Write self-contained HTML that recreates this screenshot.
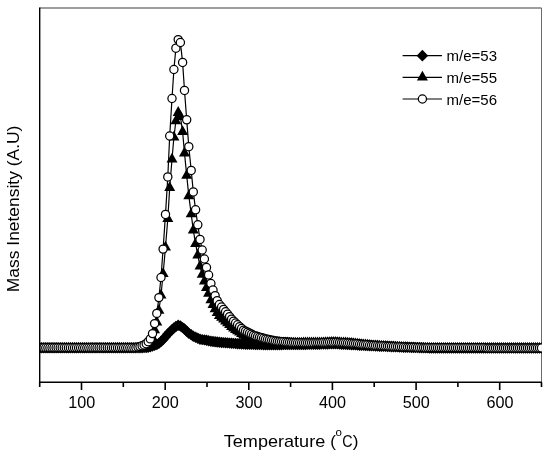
<!DOCTYPE html>
<html lang="en"><head><meta charset="utf-8"><title>Mass intensity vs temperature</title>
<style>html,body{margin:0;padding:0;background:#fff}body{width:550px;height:457px;overflow:hidden}svg{display:block}</style>
</head><body>
<svg width="550" height="457" viewBox="0 0 550 457">
<rect width="550" height="457" fill="#fff"/>
<path d="M39.7 8.0H541.5" stroke="#3c3c3c" stroke-width="1" fill="none"/>
<path d="M541.5 8.0V382.3" stroke="#5a5a5a" stroke-width="0.9" fill="none"/>
<defs>
<path id="d" d="M0 -5.7L5.6 0L0 5.7L-5.6 0Z"/>
<path id="d2" d="M0 -5.9L5.8 0L0 5.9L-5.8 0Z"/>
<path id="t" d="M0 -6.5L5.5 3.3H-5.5Z"/>
<circle id="c" r="4.1" fill="#fff" stroke="#000" stroke-width="1.25"/>
</defs>
<clipPath id="cp"><rect x="39.7" y="8.0" width="502.1" height="374.3"/></clipPath>
<g fill="#000" clip-path="url(#cp)">
<polyline points="39.7,347.8 41.7,347.8 43.8,347.8 45.8,347.8 47.9,347.8 49.9,347.8 52,347.8 54,347.8 56.1,347.8 58.1,347.8 60.2,347.8 62.2,347.8 64.3,347.8 66.3,347.8 68.4,347.8 70.4,347.8 72.5,347.8 74.5,347.8 76.5,347.8 78.6,347.8 80.6,347.8 82.7,347.8 84.7,347.8 86.8,347.8 88.8,347.8 90.9,347.8 92.9,347.8 95,347.8 97,347.8 99.1,347.8 101.1,347.8 103.2,347.8 105.2,347.8 107.3,347.8 109.3,347.8 111.4,347.8 113.4,347.8 115.4,347.8 117.5,347.8 119.5,347.8 121.6,347.8 123.6,347.8 125.7,347.8 127.7,347.8 129.8,347.8 131.8,347.8 133.9,347.8 135.9,347.8 138,347.8 140,347.8 142.1,347.7 144.1,347.6 146.2,347.5 148.2,347.3 150.3,346.8 152.5,346.1 154.6,345.3 156.8,344.5 158.9,343.4 161,341.5 163.1,339.6 165.5,336.8 167.8,334 169.7,332.1 172,329.8 173.9,328 175.9,326.5 178.2,325.3 180.4,326 182.6,327.6 184.5,329 186.7,331.3 188.8,333.2 191.2,334.8 193.3,336.3 195.6,337.3 197.8,338.3 200,339.2 202.2,339.6 204.4,339.9 206.5,340.3 208.6,340.7 210.9,341.2 213,341.5 215.1,341.8 217.2,342 219.4,342.2 221.6,342.5 223.6,342.6 225.6,342.8 227.6,342.9 229.6,343.1 231.6,343.2 233.6,343.4 235.6,343.5 237.6,343.7 239.6,343.8 241.6,344 243.6,344.1 245.6,344.2 247.6,344.3 249.6,344.3 251.6,344.4 253.6,344.4 255.6,344.5 257.6,344.5 259.6,344.6 261.6,344.6 263.6,344.7 265.6,344.7 267.6,344.7 269.6,344.7 271.6,344.7 273.6,344.7 275.6,344.7 277.6,344.7 279.6,344.7 281.6,344.7 283.6,344.6 285.6,344.6 287.6,344.6 289.6,344.6 291.6,344.6 293.6,344.6 295.6,344.6 297.6,344.6 299.6,344.6 301.6,344.6 303.6,344.5 305.6,344.5 307.6,344.4 309.6,344.4 311.6,344.3 313.6,344.3 315.6,344.2 317.6,344.2 319.6,344.2 321.6,344.1 323.6,344.1 325.6,344 327.6,344 329.6,343.9 331.6,343.9 333.6,343.8 335.6,343.8 337.6,343.9 339.6,344.1 341.6,344.2 343.6,344.3 345.6,344.4 347.6,344.5 349.6,344.6 351.6,344.7 353.6,344.8 355.6,344.9 357.6,345.1 359.6,345.2 361.6,345.3 363.6,345.4 365.6,345.5 367.6,345.6 369.6,345.7 371.6,345.8 373.6,345.9 375.6,346 377.6,346.1 379.6,346.2 381.5,346.3 383.5,346.3 385.5,346.4 387.5,346.5 389.5,346.6 391.5,346.7 393.5,346.8 395.5,346.9 397.5,346.9 399.5,347 401.5,347.1 403.5,347.2 405.5,347.3 407.5,347.3 409.5,347.4 411.5,347.5 413.5,347.5 415.5,347.6 417.5,347.6 419.5,347.7 421.5,347.8 423.5,347.8 425.5,347.9 427.5,347.9 429.5,348 431.5,348 433.5,348 435.5,348 437.5,348 439.5,348 441.5,348 443.5,348 445.5,348 447.5,348 449.5,348 451.5,348 453.5,348 455.5,348 457.5,348 459.5,348 461.5,348 463.5,348 465.5,348 467.5,348 469.5,348 471.5,348 473.5,348 475.5,348 477.5,348 479.5,348 481.5,348 483.5,348 485.5,348 487.5,348 489.5,348 491.5,348 493.5,348 495.5,348 497.5,348 499.5,348 501.5,348 503.5,348 505.5,348 507.5,348 509.5,348 511.5,348 513.5,348 515.5,348 517.5,348 519.5,348 521.5,348 523.5,348 525.5,348 527.5,348 529.5,348 531.5,348 533.5,348 535.5,348 537.5,348 539.5,348 541.5,348" fill="none" stroke="#000" stroke-width="1.2"/>
<use href="#d" x="39.7" y="347.8"/>
<use href="#d" x="41.7" y="347.8"/>
<use href="#d" x="43.8" y="347.8"/>
<use href="#d" x="45.8" y="347.8"/>
<use href="#d" x="47.9" y="347.8"/>
<use href="#d" x="49.9" y="347.8"/>
<use href="#d" x="52" y="347.8"/>
<use href="#d" x="54" y="347.8"/>
<use href="#d" x="56.1" y="347.8"/>
<use href="#d" x="58.1" y="347.8"/>
<use href="#d" x="60.2" y="347.8"/>
<use href="#d" x="62.2" y="347.8"/>
<use href="#d" x="64.3" y="347.8"/>
<use href="#d" x="66.3" y="347.8"/>
<use href="#d" x="68.4" y="347.8"/>
<use href="#d" x="70.4" y="347.8"/>
<use href="#d" x="72.5" y="347.8"/>
<use href="#d" x="74.5" y="347.8"/>
<use href="#d" x="76.5" y="347.8"/>
<use href="#d" x="78.6" y="347.8"/>
<use href="#d" x="80.6" y="347.8"/>
<use href="#d" x="82.7" y="347.8"/>
<use href="#d" x="84.7" y="347.8"/>
<use href="#d" x="86.8" y="347.8"/>
<use href="#d" x="88.8" y="347.8"/>
<use href="#d" x="90.9" y="347.8"/>
<use href="#d" x="92.9" y="347.8"/>
<use href="#d" x="95" y="347.8"/>
<use href="#d" x="97" y="347.8"/>
<use href="#d" x="99.1" y="347.8"/>
<use href="#d" x="101.1" y="347.8"/>
<use href="#d" x="103.2" y="347.8"/>
<use href="#d" x="105.2" y="347.8"/>
<use href="#d" x="107.3" y="347.8"/>
<use href="#d" x="109.3" y="347.8"/>
<use href="#d" x="111.4" y="347.8"/>
<use href="#d" x="113.4" y="347.8"/>
<use href="#d" x="115.4" y="347.8"/>
<use href="#d" x="117.5" y="347.8"/>
<use href="#d" x="119.5" y="347.8"/>
<use href="#d" x="121.6" y="347.8"/>
<use href="#d" x="123.6" y="347.8"/>
<use href="#d" x="125.7" y="347.8"/>
<use href="#d" x="127.7" y="347.8"/>
<use href="#d" x="129.8" y="347.8"/>
<use href="#d" x="131.8" y="347.8"/>
<use href="#d" x="133.9" y="347.8"/>
<use href="#d" x="135.9" y="347.8"/>
<use href="#d" x="138" y="347.8"/>
<use href="#d" x="140" y="347.8"/>
<use href="#d" x="142.1" y="347.7"/>
<use href="#d" x="144.1" y="347.6"/>
<use href="#d" x="146.2" y="347.5"/>
<use href="#d" x="148.2" y="347.3"/>
<use href="#d" x="150.3" y="346.8"/>
<use href="#d" x="152.5" y="346.1"/>
<use href="#d" x="154.6" y="345.3"/>
<use href="#d" x="156.8" y="344.5"/>
<use href="#d" x="158.9" y="343.4"/>
<use href="#d" x="161" y="341.5"/>
<use href="#d" x="163.1" y="339.6"/>
<use href="#d" x="165.5" y="336.8"/>
<use href="#d" x="167.8" y="334"/>
<use href="#d" x="169.7" y="332.1"/>
<use href="#d" x="172" y="329.8"/>
<use href="#d" x="173.9" y="328"/>
<use href="#d" x="175.9" y="326.5"/>
<use href="#d" x="178.2" y="325.3"/>
<use href="#d" x="180.4" y="326"/>
<use href="#d" x="182.6" y="327.6"/>
<use href="#d" x="184.5" y="329"/>
<use href="#d" x="186.7" y="331.3"/>
<use href="#d" x="188.8" y="333.2"/>
<use href="#d" x="191.2" y="334.8"/>
<use href="#d" x="193.3" y="336.3"/>
<use href="#d" x="195.6" y="337.3"/>
<use href="#d" x="197.8" y="338.3"/>
<use href="#d" x="200" y="339.2"/>
<use href="#d" x="202.2" y="339.6"/>
<use href="#d" x="204.4" y="339.9"/>
<use href="#d" x="206.5" y="340.3"/>
<use href="#d" x="208.6" y="340.7"/>
<use href="#d" x="210.9" y="341.2"/>
<use href="#d" x="213" y="341.5"/>
<use href="#d" x="215.1" y="341.8"/>
<use href="#d" x="217.2" y="342"/>
<use href="#d" x="219.4" y="342.2"/>
<use href="#d" x="221.6" y="342.5"/>
<use href="#d" x="223.6" y="342.6"/>
<use href="#d" x="225.6" y="342.8"/>
<use href="#d" x="227.6" y="342.9"/>
<use href="#d" x="229.6" y="343.1"/>
<use href="#d" x="231.6" y="343.2"/>
<use href="#d" x="233.6" y="343.4"/>
<use href="#d" x="235.6" y="343.5"/>
<use href="#d" x="237.6" y="343.7"/>
<use href="#d" x="239.6" y="343.8"/>
<use href="#d" x="241.6" y="344"/>
<use href="#d" x="243.6" y="344.1"/>
<use href="#d" x="245.6" y="344.2"/>
<use href="#d" x="247.6" y="344.3"/>
<use href="#d" x="249.6" y="344.3"/>
<use href="#d" x="251.6" y="344.4"/>
<use href="#d" x="253.6" y="344.4"/>
<use href="#d" x="255.6" y="344.5"/>
<use href="#d" x="257.6" y="344.5"/>
<use href="#d" x="259.6" y="344.6"/>
<use href="#d" x="261.6" y="344.6"/>
<use href="#d" x="263.6" y="344.7"/>
<use href="#d" x="265.6" y="344.7"/>
<use href="#d" x="267.6" y="344.7"/>
<use href="#d" x="269.6" y="344.7"/>
<use href="#d" x="271.6" y="344.7"/>
<use href="#d" x="273.6" y="344.7"/>
<use href="#d" x="275.6" y="344.7"/>
<use href="#d" x="277.6" y="344.7"/>
<use href="#d" x="279.6" y="344.7"/>
<use href="#d" x="281.6" y="344.7"/>
<use href="#d" x="283.6" y="344.6"/>
<use href="#d" x="285.6" y="344.6"/>
<use href="#d" x="287.6" y="344.6"/>
<use href="#d" x="289.6" y="344.6"/>
<use href="#d" x="291.6" y="344.6"/>
<use href="#d" x="293.6" y="344.6"/>
<use href="#d" x="295.6" y="344.6"/>
<use href="#d" x="297.6" y="344.6"/>
<use href="#d" x="299.6" y="344.6"/>
<use href="#d" x="301.6" y="344.6"/>
<use href="#d" x="303.6" y="344.5"/>
<use href="#d" x="305.6" y="344.5"/>
<use href="#d" x="307.6" y="344.4"/>
<use href="#d" x="309.6" y="344.4"/>
<use href="#d" x="311.6" y="344.3"/>
<use href="#d" x="313.6" y="344.3"/>
<use href="#d" x="315.6" y="344.2"/>
<use href="#d" x="317.6" y="344.2"/>
<use href="#d" x="319.6" y="344.2"/>
<use href="#d" x="321.6" y="344.1"/>
<use href="#d" x="323.6" y="344.1"/>
<use href="#d" x="325.6" y="344"/>
<use href="#d" x="327.6" y="344"/>
<use href="#d" x="329.6" y="343.9"/>
<use href="#d" x="331.6" y="343.9"/>
<use href="#d" x="333.6" y="343.8"/>
<use href="#d" x="335.6" y="343.8"/>
<use href="#d" x="337.6" y="343.9"/>
<use href="#d" x="339.6" y="344.1"/>
<use href="#d" x="341.6" y="344.2"/>
<use href="#d" x="343.6" y="344.3"/>
<use href="#d" x="345.6" y="344.4"/>
<use href="#d" x="347.6" y="344.5"/>
<use href="#d" x="349.6" y="344.6"/>
<use href="#d" x="351.6" y="344.7"/>
<use href="#d" x="353.6" y="344.8"/>
<use href="#d" x="355.6" y="344.9"/>
<use href="#d" x="357.6" y="345.1"/>
<use href="#d" x="359.6" y="345.2"/>
<use href="#d" x="361.6" y="345.3"/>
<use href="#d" x="363.6" y="345.4"/>
<use href="#d" x="365.6" y="345.5"/>
<use href="#d" x="367.6" y="345.6"/>
<use href="#d" x="369.6" y="345.7"/>
<use href="#d" x="371.6" y="345.8"/>
<use href="#d" x="373.6" y="345.9"/>
<use href="#d" x="375.6" y="346"/>
<use href="#d" x="377.6" y="346.1"/>
<use href="#d" x="379.6" y="346.2"/>
<use href="#d" x="381.5" y="346.3"/>
<use href="#d" x="383.5" y="346.3"/>
<use href="#d" x="385.5" y="346.4"/>
<use href="#d" x="387.5" y="346.5"/>
<use href="#d" x="389.5" y="346.6"/>
<use href="#d" x="391.5" y="346.7"/>
<use href="#d" x="393.5" y="346.8"/>
<use href="#d" x="395.5" y="346.9"/>
<use href="#d" x="397.5" y="346.9"/>
<use href="#d" x="399.5" y="347"/>
<use href="#d" x="401.5" y="347.1"/>
<use href="#d" x="403.5" y="347.2"/>
<use href="#d" x="405.5" y="347.3"/>
<use href="#d" x="407.5" y="347.3"/>
<use href="#d" x="409.5" y="347.4"/>
<use href="#d" x="411.5" y="347.5"/>
<use href="#d" x="413.5" y="347.5"/>
<use href="#d" x="415.5" y="347.6"/>
<use href="#d" x="417.5" y="347.6"/>
<use href="#d" x="419.5" y="347.7"/>
<use href="#d" x="421.5" y="347.8"/>
<use href="#d" x="423.5" y="347.8"/>
<use href="#d" x="425.5" y="347.9"/>
<use href="#d" x="427.5" y="347.9"/>
<use href="#d" x="429.5" y="348"/>
<use href="#d" x="431.5" y="348"/>
<use href="#d" x="433.5" y="348"/>
<use href="#d" x="435.5" y="348"/>
<use href="#d" x="437.5" y="348"/>
<use href="#d" x="439.5" y="348"/>
<use href="#d" x="441.5" y="348"/>
<use href="#d" x="443.5" y="348"/>
<use href="#d" x="445.5" y="348"/>
<use href="#d" x="447.5" y="348"/>
<use href="#d" x="449.5" y="348"/>
<use href="#d" x="451.5" y="348"/>
<use href="#d" x="453.5" y="348"/>
<use href="#d" x="455.5" y="348"/>
<use href="#d" x="457.5" y="348"/>
<use href="#d" x="459.5" y="348"/>
<use href="#d" x="461.5" y="348"/>
<use href="#d" x="463.5" y="348"/>
<use href="#d" x="465.5" y="348"/>
<use href="#d" x="467.5" y="348"/>
<use href="#d" x="469.5" y="348"/>
<use href="#d" x="471.5" y="348"/>
<use href="#d" x="473.5" y="348"/>
<use href="#d" x="475.5" y="348"/>
<use href="#d" x="477.5" y="348"/>
<use href="#d" x="479.5" y="348"/>
<use href="#d" x="481.5" y="348"/>
<use href="#d" x="483.5" y="348"/>
<use href="#d" x="485.5" y="348"/>
<use href="#d" x="487.5" y="348"/>
<use href="#d" x="489.5" y="348"/>
<use href="#d" x="491.5" y="348"/>
<use href="#d" x="493.5" y="348"/>
<use href="#d" x="495.5" y="348"/>
<use href="#d" x="497.5" y="348"/>
<use href="#d" x="499.5" y="348"/>
<use href="#d" x="501.5" y="348"/>
<use href="#d" x="503.5" y="348"/>
<use href="#d" x="505.5" y="348"/>
<use href="#d" x="507.5" y="348"/>
<use href="#d" x="509.5" y="348"/>
<use href="#d" x="511.5" y="348"/>
<use href="#d" x="513.5" y="348"/>
<use href="#d" x="515.5" y="348"/>
<use href="#d" x="517.5" y="348"/>
<use href="#d" x="519.5" y="348"/>
<use href="#d" x="521.5" y="348"/>
<use href="#d" x="523.5" y="348"/>
<use href="#d" x="525.5" y="348"/>
<use href="#d" x="527.5" y="348"/>
<use href="#d" x="529.5" y="348"/>
<use href="#d" x="531.5" y="348"/>
<use href="#d" x="533.5" y="348"/>
<use href="#d" x="535.5" y="348"/>
<use href="#d" x="537.5" y="348"/>
<use href="#d" x="539.5" y="348"/>
<use href="#d" x="541.5" y="348"/>
<polyline points="39.7,348.7 41.7,348.7 43.8,348.7 45.8,348.7 47.9,348.7 49.9,348.7 52,348.7 54,348.7 56.1,348.7 58.1,348.7 60.2,348.7 62.2,348.7 64.3,348.7 66.3,348.7 68.4,348.7 70.4,348.7 72.5,348.7 74.5,348.7 76.5,348.7 78.6,348.7 80.6,348.7 82.7,348.7 84.7,348.7 86.8,348.7 88.8,348.7 90.9,348.7 92.9,348.7 95,348.7 97,348.7 99.1,348.7 101.1,348.7 103.2,348.7 105.2,348.7 107.3,348.7 109.3,348.7 111.4,348.7 113.4,348.7 115.4,348.7 117.5,348.7 119.5,348.7 121.6,348.7 123.6,348.7 125.7,348.7 127.7,348.7 129.8,348.7 131.8,348.7 133.9,348.7 135.9,348.6 138,348.2 140,347.8 142.1,347.2 144.1,346.5 146.2,345.5 148.2,344 150.3,341.8 152.5,337.7 154.6,330 156.8,322.3 158.9,310.4 161,295.3 163.1,273.7 165.5,247.3 167.8,218.8 169.7,187.8 172,159.3 173.9,137.2 175.9,121 178.2,112.6 180.4,116.7 182.6,131.8 184.5,153.1 186.7,175.4 188.8,195.9 191.2,213.9 193.3,230.2 195.6,243.8 197.8,255.2 200,266.3 202.2,274.4 204.4,281.2 206.5,287.7 208.6,293.4 210.9,299.9 213,304.8 215.1,309 217.2,312.7 219.4,315.6 221.6,317.4 223.6,319.2 225.6,321.1 227.6,322.9 229.6,324.7 231.6,326.6 233.6,328.2 235.6,329.6 237.6,331 239.6,332.3 241.6,333.7 243.6,335.1 245.6,335.9 247.6,336.6 249.6,337.4 251.6,338.1 253.6,338.9 255.6,339.5 257.6,340 259.6,340.4 261.6,340.9 263.6,341.2 265.6,341.5 267.6,341.7 269.6,341.9 271.6,342.1 273.6,342.3 275.6,342.6 277.6,342.7 279.6,342.8 281.6,342.9 283.6,343 285.6,343.1 287.6,343.1 289.6,343.2 291.6,343.2 293.6,343.2 295.6,343.2 297.6,343.3 299.6,343.2 301.6,343.2 303.6,343.1 305.6,343.1 307.6,343.1 309.6,343.1 311.6,343.1 313.6,343 315.6,343 317.6,343 319.6,343 321.6,342.9 323.6,342.9 325.6,342.8 327.6,342.7 329.6,342.7 331.6,342.6 333.6,342.6 335.6,342.6 337.6,342.7 339.6,342.8 341.6,342.9 343.6,343 345.6,343.1 347.6,343.3 349.6,343.4 351.6,343.6 353.6,343.8 355.6,344 357.6,344.2 359.6,344.5 361.6,344.7 363.6,344.9 365.6,345.1 367.6,345.3 369.6,345.6 371.6,345.8 373.6,345.9 375.6,346 377.6,346.1 379.6,346.3 381.5,346.4 383.5,346.5 385.5,346.6 387.5,346.8 389.5,346.9 391.5,347 393.5,347.1 395.5,347.2 397.5,347.3 399.5,347.5 401.5,347.6 403.5,347.7 405.5,347.8 407.5,347.9 409.5,347.9 411.5,348 413.5,348.1 415.5,348.2 417.5,348.2 419.5,348.3 421.5,348.4 423.5,348.5 425.5,348.5 427.5,348.6 429.5,348.7 431.5,348.7 433.5,348.7 435.5,348.7 437.5,348.7 439.5,348.7 441.5,348.7 443.5,348.7 445.5,348.7 447.5,348.7 449.5,348.7 451.5,348.7 453.5,348.7 455.5,348.7 457.5,348.7 459.5,348.7 461.5,348.7 463.5,348.7 465.5,348.7 467.5,348.7 469.5,348.7 471.5,348.7 473.5,348.7 475.5,348.7 477.5,348.7 479.5,348.7 481.5,348.7 483.5,348.7 485.5,348.7 487.5,348.7 489.5,348.7 491.5,348.8 493.5,348.8 495.5,348.8 497.5,348.8 499.5,348.8 501.5,348.8 503.5,348.8 505.5,348.8 507.5,348.8 509.5,348.8 511.5,348.8 513.5,348.8 515.5,348.8 517.5,348.8 519.5,348.8 521.5,348.8 523.5,348.8 525.5,348.8 527.5,348.8 529.5,348.8 531.5,348.8 533.5,348.8 535.5,348.8 537.5,348.8 539.5,348.8 541.5,348.8" fill="none" stroke="#000" stroke-width="1.2"/>
<use href="#t" x="39.7" y="348.7"/>
<use href="#t" x="41.7" y="348.7"/>
<use href="#t" x="43.8" y="348.7"/>
<use href="#t" x="45.8" y="348.7"/>
<use href="#t" x="47.9" y="348.7"/>
<use href="#t" x="49.9" y="348.7"/>
<use href="#t" x="52" y="348.7"/>
<use href="#t" x="54" y="348.7"/>
<use href="#t" x="56.1" y="348.7"/>
<use href="#t" x="58.1" y="348.7"/>
<use href="#t" x="60.2" y="348.7"/>
<use href="#t" x="62.2" y="348.7"/>
<use href="#t" x="64.3" y="348.7"/>
<use href="#t" x="66.3" y="348.7"/>
<use href="#t" x="68.4" y="348.7"/>
<use href="#t" x="70.4" y="348.7"/>
<use href="#t" x="72.5" y="348.7"/>
<use href="#t" x="74.5" y="348.7"/>
<use href="#t" x="76.5" y="348.7"/>
<use href="#t" x="78.6" y="348.7"/>
<use href="#t" x="80.6" y="348.7"/>
<use href="#t" x="82.7" y="348.7"/>
<use href="#t" x="84.7" y="348.7"/>
<use href="#t" x="86.8" y="348.7"/>
<use href="#t" x="88.8" y="348.7"/>
<use href="#t" x="90.9" y="348.7"/>
<use href="#t" x="92.9" y="348.7"/>
<use href="#t" x="95" y="348.7"/>
<use href="#t" x="97" y="348.7"/>
<use href="#t" x="99.1" y="348.7"/>
<use href="#t" x="101.1" y="348.7"/>
<use href="#t" x="103.2" y="348.7"/>
<use href="#t" x="105.2" y="348.7"/>
<use href="#t" x="107.3" y="348.7"/>
<use href="#t" x="109.3" y="348.7"/>
<use href="#t" x="111.4" y="348.7"/>
<use href="#t" x="113.4" y="348.7"/>
<use href="#t" x="115.4" y="348.7"/>
<use href="#t" x="117.5" y="348.7"/>
<use href="#t" x="119.5" y="348.7"/>
<use href="#t" x="121.6" y="348.7"/>
<use href="#t" x="123.6" y="348.7"/>
<use href="#t" x="125.7" y="348.7"/>
<use href="#t" x="127.7" y="348.7"/>
<use href="#t" x="129.8" y="348.7"/>
<use href="#t" x="131.8" y="348.7"/>
<use href="#t" x="133.9" y="348.7"/>
<use href="#t" x="135.9" y="348.6"/>
<use href="#t" x="138" y="348.2"/>
<use href="#t" x="140" y="347.8"/>
<use href="#t" x="142.1" y="347.2"/>
<use href="#t" x="144.1" y="346.5"/>
<use href="#t" x="146.2" y="345.5"/>
<use href="#t" x="148.2" y="344"/>
<use href="#t" x="150.3" y="341.8"/>
<use href="#t" x="152.5" y="337.7"/>
<use href="#t" x="154.6" y="330"/>
<use href="#t" x="156.8" y="322.3"/>
<use href="#t" x="158.9" y="310.4"/>
<use href="#t" x="161" y="295.3"/>
<use href="#t" x="163.1" y="273.7"/>
<use href="#t" x="165.5" y="247.3"/>
<use href="#t" x="167.8" y="218.8"/>
<use href="#t" x="169.7" y="187.8"/>
<use href="#t" x="172" y="159.3"/>
<use href="#t" x="173.9" y="137.2"/>
<use href="#t" x="175.9" y="121"/>
<use href="#t" x="178.2" y="112.6"/>
<use href="#t" x="180.4" y="116.7"/>
<use href="#t" x="182.6" y="131.8"/>
<use href="#t" x="184.5" y="153.1"/>
<use href="#t" x="186.7" y="175.4"/>
<use href="#t" x="188.8" y="195.9"/>
<use href="#t" x="191.2" y="213.9"/>
<use href="#t" x="193.3" y="230.2"/>
<use href="#t" x="195.6" y="243.8"/>
<use href="#t" x="197.8" y="255.2"/>
<use href="#t" x="200" y="266.3"/>
<use href="#t" x="202.2" y="274.4"/>
<use href="#t" x="204.4" y="281.2"/>
<use href="#t" x="206.5" y="287.7"/>
<use href="#t" x="208.6" y="293.4"/>
<use href="#t" x="210.9" y="299.9"/>
<use href="#t" x="213" y="304.8"/>
<use href="#t" x="215.1" y="309"/>
<use href="#t" x="217.2" y="312.7"/>
<use href="#t" x="219.4" y="315.6"/>
<use href="#t" x="221.6" y="317.4"/>
<use href="#t" x="223.6" y="319.2"/>
<use href="#t" x="225.6" y="321.1"/>
<use href="#t" x="227.6" y="322.9"/>
<use href="#t" x="229.6" y="324.7"/>
<use href="#t" x="231.6" y="326.6"/>
<use href="#t" x="233.6" y="328.2"/>
<use href="#t" x="235.6" y="329.6"/>
<use href="#t" x="237.6" y="331"/>
<use href="#t" x="239.6" y="332.3"/>
<use href="#t" x="241.6" y="333.7"/>
<use href="#t" x="243.6" y="335.1"/>
<use href="#t" x="245.6" y="335.9"/>
<use href="#t" x="247.6" y="336.6"/>
<use href="#t" x="249.6" y="337.4"/>
<use href="#t" x="251.6" y="338.1"/>
<use href="#t" x="253.6" y="338.9"/>
<use href="#t" x="255.6" y="339.5"/>
<use href="#t" x="257.6" y="340"/>
<use href="#t" x="259.6" y="340.4"/>
<use href="#t" x="261.6" y="340.9"/>
<use href="#t" x="263.6" y="341.2"/>
<use href="#t" x="265.6" y="341.5"/>
<use href="#t" x="267.6" y="341.7"/>
<use href="#t" x="269.6" y="341.9"/>
<use href="#t" x="271.6" y="342.1"/>
<use href="#t" x="273.6" y="342.3"/>
<use href="#t" x="275.6" y="342.6"/>
<use href="#t" x="277.6" y="342.7"/>
<use href="#t" x="279.6" y="342.8"/>
<use href="#t" x="281.6" y="342.9"/>
<use href="#t" x="283.6" y="343"/>
<use href="#t" x="285.6" y="343.1"/>
<use href="#t" x="287.6" y="343.1"/>
<use href="#t" x="289.6" y="343.2"/>
<use href="#t" x="291.6" y="343.2"/>
<use href="#t" x="293.6" y="343.2"/>
<use href="#t" x="295.6" y="343.2"/>
<use href="#t" x="297.6" y="343.3"/>
<use href="#t" x="299.6" y="343.2"/>
<use href="#t" x="301.6" y="343.2"/>
<use href="#t" x="303.6" y="343.1"/>
<use href="#t" x="305.6" y="343.1"/>
<use href="#t" x="307.6" y="343.1"/>
<use href="#t" x="309.6" y="343.1"/>
<use href="#t" x="311.6" y="343.1"/>
<use href="#t" x="313.6" y="343"/>
<use href="#t" x="315.6" y="343"/>
<use href="#t" x="317.6" y="343"/>
<use href="#t" x="319.6" y="343"/>
<use href="#t" x="321.6" y="342.9"/>
<use href="#t" x="323.6" y="342.9"/>
<use href="#t" x="325.6" y="342.8"/>
<use href="#t" x="327.6" y="342.7"/>
<use href="#t" x="329.6" y="342.7"/>
<use href="#t" x="331.6" y="342.6"/>
<use href="#t" x="333.6" y="342.6"/>
<use href="#t" x="335.6" y="342.6"/>
<use href="#t" x="337.6" y="342.7"/>
<use href="#t" x="339.6" y="342.8"/>
<use href="#t" x="341.6" y="342.9"/>
<use href="#t" x="343.6" y="343"/>
<use href="#t" x="345.6" y="343.1"/>
<use href="#t" x="347.6" y="343.3"/>
<use href="#t" x="349.6" y="343.4"/>
<use href="#t" x="351.6" y="343.6"/>
<use href="#t" x="353.6" y="343.8"/>
<use href="#t" x="355.6" y="344"/>
<use href="#t" x="357.6" y="344.2"/>
<use href="#t" x="359.6" y="344.5"/>
<use href="#t" x="361.6" y="344.7"/>
<use href="#t" x="363.6" y="344.9"/>
<use href="#t" x="365.6" y="345.1"/>
<use href="#t" x="367.6" y="345.3"/>
<use href="#t" x="369.6" y="345.6"/>
<use href="#t" x="371.6" y="345.8"/>
<use href="#t" x="373.6" y="345.9"/>
<use href="#t" x="375.6" y="346"/>
<use href="#t" x="377.6" y="346.1"/>
<use href="#t" x="379.6" y="346.3"/>
<use href="#t" x="381.5" y="346.4"/>
<use href="#t" x="383.5" y="346.5"/>
<use href="#t" x="385.5" y="346.6"/>
<use href="#t" x="387.5" y="346.8"/>
<use href="#t" x="389.5" y="346.9"/>
<use href="#t" x="391.5" y="347"/>
<use href="#t" x="393.5" y="347.1"/>
<use href="#t" x="395.5" y="347.2"/>
<use href="#t" x="397.5" y="347.3"/>
<use href="#t" x="399.5" y="347.5"/>
<use href="#t" x="401.5" y="347.6"/>
<use href="#t" x="403.5" y="347.7"/>
<use href="#t" x="405.5" y="347.8"/>
<use href="#t" x="407.5" y="347.9"/>
<use href="#t" x="409.5" y="347.9"/>
<use href="#t" x="411.5" y="348"/>
<use href="#t" x="413.5" y="348.1"/>
<use href="#t" x="415.5" y="348.2"/>
<use href="#t" x="417.5" y="348.2"/>
<use href="#t" x="419.5" y="348.3"/>
<use href="#t" x="421.5" y="348.4"/>
<use href="#t" x="423.5" y="348.5"/>
<use href="#t" x="425.5" y="348.5"/>
<use href="#t" x="427.5" y="348.6"/>
<use href="#t" x="429.5" y="348.7"/>
<use href="#t" x="431.5" y="348.7"/>
<use href="#t" x="433.5" y="348.7"/>
<use href="#t" x="435.5" y="348.7"/>
<use href="#t" x="437.5" y="348.7"/>
<use href="#t" x="439.5" y="348.7"/>
<use href="#t" x="441.5" y="348.7"/>
<use href="#t" x="443.5" y="348.7"/>
<use href="#t" x="445.5" y="348.7"/>
<use href="#t" x="447.5" y="348.7"/>
<use href="#t" x="449.5" y="348.7"/>
<use href="#t" x="451.5" y="348.7"/>
<use href="#t" x="453.5" y="348.7"/>
<use href="#t" x="455.5" y="348.7"/>
<use href="#t" x="457.5" y="348.7"/>
<use href="#t" x="459.5" y="348.7"/>
<use href="#t" x="461.5" y="348.7"/>
<use href="#t" x="463.5" y="348.7"/>
<use href="#t" x="465.5" y="348.7"/>
<use href="#t" x="467.5" y="348.7"/>
<use href="#t" x="469.5" y="348.7"/>
<use href="#t" x="471.5" y="348.7"/>
<use href="#t" x="473.5" y="348.7"/>
<use href="#t" x="475.5" y="348.7"/>
<use href="#t" x="477.5" y="348.7"/>
<use href="#t" x="479.5" y="348.7"/>
<use href="#t" x="481.5" y="348.7"/>
<use href="#t" x="483.5" y="348.7"/>
<use href="#t" x="485.5" y="348.7"/>
<use href="#t" x="487.5" y="348.7"/>
<use href="#t" x="489.5" y="348.7"/>
<use href="#t" x="491.5" y="348.8"/>
<use href="#t" x="493.5" y="348.8"/>
<use href="#t" x="495.5" y="348.8"/>
<use href="#t" x="497.5" y="348.8"/>
<use href="#t" x="499.5" y="348.8"/>
<use href="#t" x="501.5" y="348.8"/>
<use href="#t" x="503.5" y="348.8"/>
<use href="#t" x="505.5" y="348.8"/>
<use href="#t" x="507.5" y="348.8"/>
<use href="#t" x="509.5" y="348.8"/>
<use href="#t" x="511.5" y="348.8"/>
<use href="#t" x="513.5" y="348.8"/>
<use href="#t" x="515.5" y="348.8"/>
<use href="#t" x="517.5" y="348.8"/>
<use href="#t" x="519.5" y="348.8"/>
<use href="#t" x="521.5" y="348.8"/>
<use href="#t" x="523.5" y="348.8"/>
<use href="#t" x="525.5" y="348.8"/>
<use href="#t" x="527.5" y="348.8"/>
<use href="#t" x="529.5" y="348.8"/>
<use href="#t" x="531.5" y="348.8"/>
<use href="#t" x="533.5" y="348.8"/>
<use href="#t" x="535.5" y="348.8"/>
<use href="#t" x="537.5" y="348.8"/>
<use href="#t" x="539.5" y="348.8"/>
<use href="#t" x="541.5" y="348.8"/>
<polyline points="39.7,347.8 41.7,347.8 43.8,347.8 45.8,347.8 47.9,347.8 49.9,347.8 52,347.8 54,347.8 56.1,347.8 58.1,347.8 60.2,347.8 62.2,347.8 64.3,347.8 66.3,347.8 68.4,347.8 70.4,347.8 72.5,347.8 74.5,347.8 76.5,347.8 78.6,347.8 80.6,347.8 82.7,347.8 84.7,347.8 86.8,347.8 88.8,347.8 90.9,347.8 92.9,347.8 95,347.8 97,347.8 99.1,347.8 101.1,347.8 103.2,347.8 105.2,347.8 107.3,347.8 109.3,347.8 111.4,347.8 113.4,347.8 115.4,347.8 117.5,347.8 119.5,347.8 121.6,347.8 123.6,347.8 125.7,347.8 127.7,347.8 129.8,347.8 131.8,347.8 133.9,347.8 135.9,347.6 138,347.1 140,346.6 142.1,345.8 144.1,345 146.2,343.7 148.2,341.7 150.3,338.9 152.5,333.6 154.6,323.6 156.8,313.4 158.9,297.6 161,277.5 163.1,249.1 165.5,214.4 167.8,176.9 169.7,136 172,98.5 173.9,69.5 175.9,48.2 178.2,39.6 180.4,42.5 182.6,62.4 184.5,90.4 186.7,119.8 188.8,146.7 191.2,170.4 193.3,191.9 195.6,209.8 197.8,224.8 200,239.4 202.2,250 204.4,259 206.5,267.5 208.6,275 210.9,283.5 213,290 215.1,295.7 217.2,300.7 219.4,304.5 221.6,307 223.6,309.4 225.6,311.8 227.6,314.2 229.6,316.6 231.6,319.1 233.6,321.2 235.6,323 237.6,324.8 239.6,326.6 241.6,328.4 243.6,330.2 245.6,331.2 247.6,332.2 249.6,333.2 251.6,334.2 253.6,335.1 255.6,335.9 257.6,336.5 259.6,337.1 261.6,337.7 263.6,338.3 265.6,338.9 267.6,339.3 269.6,339.7 271.6,340.1 273.6,340.5 275.6,340.9 277.6,341.2 279.6,341.4 281.6,341.6 283.6,341.8 285.6,342 287.6,342.2 289.6,342.3 291.6,342.4 293.6,342.5 295.6,342.7 297.6,342.8 299.6,342.8 301.6,342.8 303.6,342.8 305.6,342.7 307.6,342.7 309.6,342.7 311.6,342.7 313.6,342.7 315.6,342.6 317.6,342.6 319.6,342.6 321.6,342.6 323.6,342.5 325.6,342.5 327.6,342.4 329.6,342.3 331.6,342.3 333.6,342.2 335.6,342.2 337.6,342.3 339.6,342.4 341.6,342.6 343.6,342.7 345.6,342.8 347.6,342.9 349.6,343 351.6,343.2 353.6,343.4 355.6,343.6 357.6,343.8 359.6,344 361.6,344.2 363.6,344.4 365.6,344.6 367.6,344.8 369.6,345 371.6,345.1 373.6,345.2 375.6,345.4 377.6,345.5 379.6,345.6 381.5,345.7 383.5,345.8 385.5,345.9 387.5,346.1 389.5,346.2 391.5,346.3 393.5,346.4 395.5,346.5 397.5,346.6 399.5,346.7 401.5,346.8 403.5,346.9 405.5,347 407.5,347.1 409.5,347.1 411.5,347.2 413.5,347.3 415.5,347.3 417.5,347.4 419.5,347.5 421.5,347.5 423.5,347.6 425.5,347.7 427.5,347.7 429.5,347.8 431.5,347.8 433.5,347.8 435.5,347.8 437.5,347.8 439.5,347.8 441.5,347.8 443.5,347.8 445.5,347.8 447.5,347.8 449.5,347.8 451.5,347.8 453.5,347.8 455.5,347.8 457.5,347.8 459.5,347.8 461.5,347.8 463.5,347.8 465.5,347.8 467.5,347.8 469.5,347.8 471.5,347.8 473.5,347.8 475.5,347.8 477.5,347.8 479.5,347.8 481.5,347.8 483.5,347.8 485.5,347.8 487.5,347.9 489.5,347.9 491.5,347.9 493.5,347.9 495.5,347.9 497.5,347.9 499.5,347.9 501.5,347.9 503.5,347.9 505.5,347.9 507.5,347.9 509.5,347.9 511.5,347.9 513.5,347.9 515.5,347.9 517.5,347.9 519.5,347.9 521.5,347.9 523.5,347.9 525.5,347.9 527.5,347.9 529.5,347.9 531.5,347.9 533.5,347.9 535.5,347.9 537.5,347.9 539.5,347.9 541.5,347.9" fill="none" stroke="#000" stroke-width="1.2"/>
<use href="#c" x="39.7" y="347.8"/>
<use href="#c" x="41.7" y="347.8"/>
<use href="#c" x="43.8" y="347.8"/>
<use href="#c" x="45.8" y="347.8"/>
<use href="#c" x="47.9" y="347.8"/>
<use href="#c" x="49.9" y="347.8"/>
<use href="#c" x="52" y="347.8"/>
<use href="#c" x="54" y="347.8"/>
<use href="#c" x="56.1" y="347.8"/>
<use href="#c" x="58.1" y="347.8"/>
<use href="#c" x="60.2" y="347.8"/>
<use href="#c" x="62.2" y="347.8"/>
<use href="#c" x="64.3" y="347.8"/>
<use href="#c" x="66.3" y="347.8"/>
<use href="#c" x="68.4" y="347.8"/>
<use href="#c" x="70.4" y="347.8"/>
<use href="#c" x="72.5" y="347.8"/>
<use href="#c" x="74.5" y="347.8"/>
<use href="#c" x="76.5" y="347.8"/>
<use href="#c" x="78.6" y="347.8"/>
<use href="#c" x="80.6" y="347.8"/>
<use href="#c" x="82.7" y="347.8"/>
<use href="#c" x="84.7" y="347.8"/>
<use href="#c" x="86.8" y="347.8"/>
<use href="#c" x="88.8" y="347.8"/>
<use href="#c" x="90.9" y="347.8"/>
<use href="#c" x="92.9" y="347.8"/>
<use href="#c" x="95" y="347.8"/>
<use href="#c" x="97" y="347.8"/>
<use href="#c" x="99.1" y="347.8"/>
<use href="#c" x="101.1" y="347.8"/>
<use href="#c" x="103.2" y="347.8"/>
<use href="#c" x="105.2" y="347.8"/>
<use href="#c" x="107.3" y="347.8"/>
<use href="#c" x="109.3" y="347.8"/>
<use href="#c" x="111.4" y="347.8"/>
<use href="#c" x="113.4" y="347.8"/>
<use href="#c" x="115.4" y="347.8"/>
<use href="#c" x="117.5" y="347.8"/>
<use href="#c" x="119.5" y="347.8"/>
<use href="#c" x="121.6" y="347.8"/>
<use href="#c" x="123.6" y="347.8"/>
<use href="#c" x="125.7" y="347.8"/>
<use href="#c" x="127.7" y="347.8"/>
<use href="#c" x="129.8" y="347.8"/>
<use href="#c" x="131.8" y="347.8"/>
<use href="#c" x="133.9" y="347.8"/>
<use href="#c" x="135.9" y="347.6"/>
<use href="#c" x="138" y="347.1"/>
<use href="#c" x="140" y="346.6"/>
<use href="#c" x="142.1" y="345.8"/>
<use href="#c" x="144.1" y="345"/>
<use href="#c" x="146.2" y="343.7"/>
<use href="#c" x="148.2" y="341.7"/>
<use href="#c" x="150.3" y="338.9"/>
<use href="#c" x="152.5" y="333.6"/>
<use href="#c" x="154.6" y="323.6"/>
<use href="#c" x="156.8" y="313.4"/>
<use href="#c" x="158.9" y="297.6"/>
<use href="#c" x="161" y="277.5"/>
<use href="#c" x="163.1" y="249.1"/>
<use href="#c" x="165.5" y="214.4"/>
<use href="#c" x="167.8" y="176.9"/>
<use href="#c" x="169.7" y="136"/>
<use href="#c" x="172" y="98.5"/>
<use href="#c" x="173.9" y="69.5"/>
<use href="#c" x="175.9" y="48.2"/>
<use href="#c" x="178.2" y="39.6"/>
<use href="#c" x="180.4" y="42.5"/>
<use href="#c" x="182.6" y="62.4"/>
<use href="#c" x="184.5" y="90.4"/>
<use href="#c" x="186.7" y="119.8"/>
<use href="#c" x="188.8" y="146.7"/>
<use href="#c" x="191.2" y="170.4"/>
<use href="#c" x="193.3" y="191.9"/>
<use href="#c" x="195.6" y="209.8"/>
<use href="#c" x="197.8" y="224.8"/>
<use href="#c" x="200" y="239.4"/>
<use href="#c" x="202.2" y="250"/>
<use href="#c" x="204.4" y="259"/>
<use href="#c" x="206.5" y="267.5"/>
<use href="#c" x="208.6" y="275"/>
<use href="#c" x="210.9" y="283.5"/>
<use href="#c" x="213" y="290"/>
<use href="#c" x="215.1" y="295.7"/>
<use href="#c" x="217.2" y="300.7"/>
<use href="#c" x="219.4" y="304.5"/>
<use href="#c" x="221.6" y="307"/>
<use href="#c" x="223.6" y="309.4"/>
<use href="#c" x="225.6" y="311.8"/>
<use href="#c" x="227.6" y="314.2"/>
<use href="#c" x="229.6" y="316.6"/>
<use href="#c" x="231.6" y="319.1"/>
<use href="#c" x="233.6" y="321.2"/>
<use href="#c" x="235.6" y="323"/>
<use href="#c" x="237.6" y="324.8"/>
<use href="#c" x="239.6" y="326.6"/>
<use href="#c" x="241.6" y="328.4"/>
<use href="#c" x="243.6" y="330.2"/>
<use href="#c" x="245.6" y="331.2"/>
<use href="#c" x="247.6" y="332.2"/>
<use href="#c" x="249.6" y="333.2"/>
<use href="#c" x="251.6" y="334.2"/>
<use href="#c" x="253.6" y="335.1"/>
<use href="#c" x="255.6" y="335.9"/>
<use href="#c" x="257.6" y="336.5"/>
<use href="#c" x="259.6" y="337.1"/>
<use href="#c" x="261.6" y="337.7"/>
<use href="#c" x="263.6" y="338.3"/>
<use href="#c" x="265.6" y="338.9"/>
<use href="#c" x="267.6" y="339.3"/>
<use href="#c" x="269.6" y="339.7"/>
<use href="#c" x="271.6" y="340.1"/>
<use href="#c" x="273.6" y="340.5"/>
<use href="#c" x="275.6" y="340.9"/>
<use href="#c" x="277.6" y="341.2"/>
<use href="#c" x="279.6" y="341.4"/>
<use href="#c" x="281.6" y="341.6"/>
<use href="#c" x="283.6" y="341.8"/>
<use href="#c" x="285.6" y="342"/>
<use href="#c" x="287.6" y="342.2"/>
<use href="#c" x="289.6" y="342.3"/>
<use href="#c" x="291.6" y="342.4"/>
<use href="#c" x="293.6" y="342.5"/>
<use href="#c" x="295.6" y="342.7"/>
<use href="#c" x="297.6" y="342.8"/>
<use href="#c" x="299.6" y="342.8"/>
<use href="#c" x="301.6" y="342.8"/>
<use href="#c" x="303.6" y="342.8"/>
<use href="#c" x="305.6" y="342.7"/>
<use href="#c" x="307.6" y="342.7"/>
<use href="#c" x="309.6" y="342.7"/>
<use href="#c" x="311.6" y="342.7"/>
<use href="#c" x="313.6" y="342.7"/>
<use href="#c" x="315.6" y="342.6"/>
<use href="#c" x="317.6" y="342.6"/>
<use href="#c" x="319.6" y="342.6"/>
<use href="#c" x="321.6" y="342.6"/>
<use href="#c" x="323.6" y="342.5"/>
<use href="#c" x="325.6" y="342.5"/>
<use href="#c" x="327.6" y="342.4"/>
<use href="#c" x="329.6" y="342.3"/>
<use href="#c" x="331.6" y="342.3"/>
<use href="#c" x="333.6" y="342.2"/>
<use href="#c" x="335.6" y="342.2"/>
<use href="#c" x="337.6" y="342.3"/>
<use href="#c" x="339.6" y="342.4"/>
<use href="#c" x="341.6" y="342.6"/>
<use href="#c" x="343.6" y="342.7"/>
<use href="#c" x="345.6" y="342.8"/>
<use href="#c" x="347.6" y="342.9"/>
<use href="#c" x="349.6" y="343"/>
<use href="#c" x="351.6" y="343.2"/>
<use href="#c" x="353.6" y="343.4"/>
<use href="#c" x="355.6" y="343.6"/>
<use href="#c" x="357.6" y="343.8"/>
<use href="#c" x="359.6" y="344"/>
<use href="#c" x="361.6" y="344.2"/>
<use href="#c" x="363.6" y="344.4"/>
<use href="#c" x="365.6" y="344.6"/>
<use href="#c" x="367.6" y="344.8"/>
<use href="#c" x="369.6" y="345"/>
<use href="#c" x="371.6" y="345.1"/>
<use href="#c" x="373.6" y="345.2"/>
<use href="#c" x="375.6" y="345.4"/>
<use href="#c" x="377.6" y="345.5"/>
<use href="#c" x="379.6" y="345.6"/>
<use href="#c" x="381.5" y="345.7"/>
<use href="#c" x="383.5" y="345.8"/>
<use href="#c" x="385.5" y="345.9"/>
<use href="#c" x="387.5" y="346.1"/>
<use href="#c" x="389.5" y="346.2"/>
<use href="#c" x="391.5" y="346.3"/>
<use href="#c" x="393.5" y="346.4"/>
<use href="#c" x="395.5" y="346.5"/>
<use href="#c" x="397.5" y="346.6"/>
<use href="#c" x="399.5" y="346.7"/>
<use href="#c" x="401.5" y="346.8"/>
<use href="#c" x="403.5" y="346.9"/>
<use href="#c" x="405.5" y="347"/>
<use href="#c" x="407.5" y="347.1"/>
<use href="#c" x="409.5" y="347.1"/>
<use href="#c" x="411.5" y="347.2"/>
<use href="#c" x="413.5" y="347.3"/>
<use href="#c" x="415.5" y="347.3"/>
<use href="#c" x="417.5" y="347.4"/>
<use href="#c" x="419.5" y="347.5"/>
<use href="#c" x="421.5" y="347.5"/>
<use href="#c" x="423.5" y="347.6"/>
<use href="#c" x="425.5" y="347.7"/>
<use href="#c" x="427.5" y="347.7"/>
<use href="#c" x="429.5" y="347.8"/>
<use href="#c" x="431.5" y="347.8"/>
<use href="#c" x="433.5" y="347.8"/>
<use href="#c" x="435.5" y="347.8"/>
<use href="#c" x="437.5" y="347.8"/>
<use href="#c" x="439.5" y="347.8"/>
<use href="#c" x="441.5" y="347.8"/>
<use href="#c" x="443.5" y="347.8"/>
<use href="#c" x="445.5" y="347.8"/>
<use href="#c" x="447.5" y="347.8"/>
<use href="#c" x="449.5" y="347.8"/>
<use href="#c" x="451.5" y="347.8"/>
<use href="#c" x="453.5" y="347.8"/>
<use href="#c" x="455.5" y="347.8"/>
<use href="#c" x="457.5" y="347.8"/>
<use href="#c" x="459.5" y="347.8"/>
<use href="#c" x="461.5" y="347.8"/>
<use href="#c" x="463.5" y="347.8"/>
<use href="#c" x="465.5" y="347.8"/>
<use href="#c" x="467.5" y="347.8"/>
<use href="#c" x="469.5" y="347.8"/>
<use href="#c" x="471.5" y="347.8"/>
<use href="#c" x="473.5" y="347.8"/>
<use href="#c" x="475.5" y="347.8"/>
<use href="#c" x="477.5" y="347.8"/>
<use href="#c" x="479.5" y="347.8"/>
<use href="#c" x="481.5" y="347.8"/>
<use href="#c" x="483.5" y="347.8"/>
<use href="#c" x="485.5" y="347.8"/>
<use href="#c" x="487.5" y="347.9"/>
<use href="#c" x="489.5" y="347.9"/>
<use href="#c" x="491.5" y="347.9"/>
<use href="#c" x="493.5" y="347.9"/>
<use href="#c" x="495.5" y="347.9"/>
<use href="#c" x="497.5" y="347.9"/>
<use href="#c" x="499.5" y="347.9"/>
<use href="#c" x="501.5" y="347.9"/>
<use href="#c" x="503.5" y="347.9"/>
<use href="#c" x="505.5" y="347.9"/>
<use href="#c" x="507.5" y="347.9"/>
<use href="#c" x="509.5" y="347.9"/>
<use href="#c" x="511.5" y="347.9"/>
<use href="#c" x="513.5" y="347.9"/>
<use href="#c" x="515.5" y="347.9"/>
<use href="#c" x="517.5" y="347.9"/>
<use href="#c" x="519.5" y="347.9"/>
<use href="#c" x="521.5" y="347.9"/>
<use href="#c" x="523.5" y="347.9"/>
<use href="#c" x="525.5" y="347.9"/>
<use href="#c" x="527.5" y="347.9"/>
<use href="#c" x="529.5" y="347.9"/>
<use href="#c" x="531.5" y="347.9"/>
<use href="#c" x="533.5" y="347.9"/>
<use href="#c" x="535.5" y="347.9"/>
<use href="#c" x="537.5" y="347.9"/>
<use href="#c" x="539.5" y="347.9"/>
<use href="#c" x="541.5" y="347.9"/>
</g>
<path d="M39.7 7.5V382.3H541.9" stroke="#000" stroke-width="1.4" fill="none"/>
<path d="M39.7 382.3V386.9M81.5 382.3V389.9M123.3 382.3V386.9M165.2 382.3V389.9M207 382.3V386.9M248.8 382.3V389.9M290.6 382.3V386.9M332.4 382.3V389.9M374.2 382.3V386.9M416.1 382.3V389.9M457.9 382.3V386.9M499.7 382.3V389.9M541.5 382.3V386.9" stroke="#000" stroke-width="1.6" fill="none"/>
<g font-family="'Liberation Sans', Arial, sans-serif" fill="#000">
<text x="81.7" y="407.8" font-size="16.2" text-anchor="middle">100</text>
<text x="165.3" y="407.8" font-size="16.2" text-anchor="middle">200</text>
<text x="249" y="407.8" font-size="16.2" text-anchor="middle">300</text>
<text x="332.6" y="407.8" font-size="16.2" text-anchor="middle">400</text>
<text x="416.2" y="407.8" font-size="16.2" text-anchor="middle">500</text>
<text x="499.9" y="407.8" font-size="16.2" text-anchor="middle">600</text>
<g font-size="17"><text x="223.8" y="447.2" textLength="101.4" lengthAdjust="spacingAndGlyphs">Temperature</text><text x="330.3" y="447.2">(</text><text transform="translate(335.6 435.6) scale(1.12 1)" font-size="10.3">o</text><text transform="translate(342.3 447.2) scale(0.84 1)">C</text><text x="352.8" y="447.2">)</text></g>
<text transform="translate(18.8 292.2) rotate(-90)" font-size="17" textLength="166.6" lengthAdjust="spacingAndGlyphs">Mass Inetensity (A.U)</text>
<path d="M402.6 55.7H442" stroke="#000" stroke-width="1.2" fill="none"/>
<use href="#d2" x="422.4" y="55.7"/>
<text x="446.5" y="61.4" font-size="14.3" textLength="50.6" lengthAdjust="spacingAndGlyphs">m/e=53</text>
<path d="M402.6 77.3H442" stroke="#000" stroke-width="1.2" fill="none"/>
<use href="#t" x="422.4" y="77.3"/>
<text x="446.5" y="83" font-size="14.3" textLength="50.6" lengthAdjust="spacingAndGlyphs">m/e=55</text>
<path d="M402.6 99.0H442" stroke="#000" stroke-width="1.2" fill="none"/>
<use href="#c" x="422.4" y="99.0"/>
<text x="446.5" y="104.7" font-size="14.3" textLength="50.6" lengthAdjust="spacingAndGlyphs">m/e=56</text>
</g>
</svg>
</body></html>
